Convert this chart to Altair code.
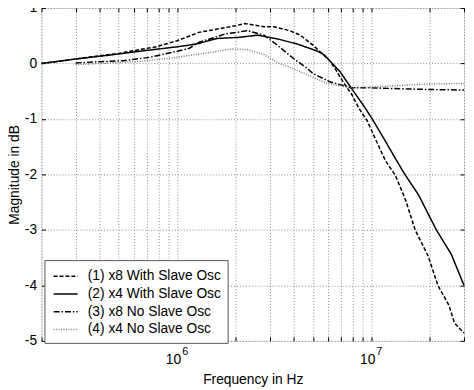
import altair as alt
import pandas as pd

names = ["(1) x8 With Slave Osc", "(2) x4 With Slave Osc",
         "(3) x8 No Slave Osc", "(4) x4 No Slave Osc"]

f1 = [2e5, 3e5, 4e5, 5e5, 6.4e5, 7.8e5, 1e6, 1.15e6, 1.29e6, 1.5e6, 1.76e6, 2.0e6,
      2.23e6, 2.5e6, 2.8e6, 3.16e6, 3.8e6, 4.3e6, 5.0e6, 5.6e6, 6.1e6, 6.6e6, 7.2e6,
      7.9e6, 8.7e6, 9.5e6, 1.03e7, 1.18e7, 1.33e7, 1.5e7, 1.68e7, 1.96e7, 2.2e7,
      2.51e7, 2.68e7, 3.0e7]
v1 = [0, 0.08, 0.14, 0.18, 0.25, 0.30, 0.41, 0.49, 0.56, 0.60, 0.645, 0.68,
      0.72, 0.69, 0.66, 0.66, 0.59, 0.51, 0.33, 0.17, 0.05, -0.13, -0.35,
      -0.55, -0.83, -1.03, -1.30, -1.75, -2.02, -2.46, -3.0, -3.47, -4.0,
      -4.36, -4.68, -4.86]

f2 = [2e5, 3e5, 4e5, 5e5, 6.4e5, 8e5, 1e6, 1.15e6, 1.29e6, 1.6e6, 2.07e6, 2.6e6,
      3.3e6, 4.15e6, 5.2e6, 5.7e6, 6.1e6, 6.9e6, 7.9e6, 9.2e6, 1.01e7, 1.18e7,
      1.38e7, 1.5e7, 1.75e7, 2.16e7, 2.58e7, 3.0e7]
v2 = [0, 0.08, 0.13, 0.17, 0.22, 0.26, 0.30, 0.33, 0.36, 0.45, 0.47, 0.51,
      0.44, 0.35, 0.23, 0.16, 0.05, -0.15, -0.45, -0.78, -1.0, -1.40,
      -1.81, -2.02, -2.37, -3.0, -3.44, -4.0]

f3 = [3e5, 4e5, 5.3e5, 7.2e5, 1e6, 1.15e6, 1.29e6, 1.5e6, 1.76e6, 2.3e6, 2.8e6,
      3.3e6, 4e6, 4.6e6, 5e6, 6.1e6, 7.9e6, 1e7, 1.55e7, 2e7, 3e7]
v3 = [0.01, 0.03, 0.05, 0.11, 0.22, 0.27, 0.38, 0.45, 0.53, 0.59, 0.51,
      0.32, 0.08, -0.07, -0.18, -0.33, -0.44, -0.44, -0.46, -0.47, -0.48]

f4 = [3e5, 4e5, 6.4e5, 1e6, 1.29e6, 1.5e6, 1.9e6, 2.3e6, 2.8e6, 3.3e6, 3.8e6,
      4.5e6, 5.9e6, 7.9e6, 1.05e7, 1.55e7, 2e7, 3e7]
v4 = [-0.02, 0.0, 0.035, 0.11, 0.17, 0.20, 0.26, 0.25, 0.16, 0.01, -0.07,
      -0.18, -0.36, -0.44, -0.42, -0.39, -0.37, -0.36]

x_ticks = [2e5, 3e5, 4e5, 5e5, 6e5, 7e5, 8e5, 9e5,
           1e6, 2e6, 3e6, 4e6, 5e6, 6e6, 7e6, 8e6, 9e6,
           1e7, 2e7, 3e7]
y_ticks = [-5, -4, -3, -2, -1, 0, 1]

# decade tick labels: 10^6, 10^7
label_vals = [1e6, 1e7]
label_base = ["10", "10"]
label_exp = ["6", "7"]

rows = []
for name, fs, vs in zip(names, [f1, f2, f3, f4], [v1, v2, v3, v4]):
    for f, v in zip(fs, vs):
        rows.append({"series": name, "freq": f, "mag": v})
df = pd.DataFrame(rows)
lab_df = pd.DataFrame({"f": label_vals, "base": label_base, "exp": label_exp})

FONT = "Liberation Sans"
xscale = alt.Scale(type="log", domain=[2e5, 3e7], nice=False)
yscale = alt.Scale(domain=[-5, 1], nice=False, zero=False)

leg = alt.Legend(
    title=None, orient="none", legendX=3, legendY=256,
    symbolType="M-1.3,0H1.3", symbolSize=350, symbolStrokeWidth=1.5,
    symbolOffset=5, symbolFillColor="transparent",
    labelFont=FONT, labelFontSize=14, labelColor="black", labelOffset=12,
    strokeColor="#555", fillColor="white", padding=6, rowPadding=0,
)

lines = alt.Chart(df).mark_line(strokeWidth=1.5).encode(
    x=alt.X("freq:Q", scale=xscale, axis=alt.Axis(
        orient="bottom", values=x_ticks, labels=False,
        title="Frequency in Hz", titleFont=FONT, titleFontSize=14,
        titleFontWeight="normal", titleColor="black", titlePadding=32,
        grid=True, gridDash=[1, 2], gridColor="#888", gridWidth=1,
        ticks=False, domain=False)),
    y=alt.Y("mag:Q", scale=yscale, axis=alt.Axis(
        orient="left", values=y_ticks, labelExpr="'' + datum.value",
        labelFont=FONT, labelFontSize=14, labelColor="black", labelPadding=5,
        title="Magnitude in dB", titleFont=FONT, titleFontSize=14,
        titleFontWeight="normal", titleColor="black", titlePadding=3,
        grid=True, gridDash=[1, 2], gridColor="#888", gridWidth=1,
        ticks=False, domain=False)),
    color=alt.Color("series:N", scale=alt.Scale(domain=names,
                    range=["black", "black", "black", "#777"]), legend=leg),
    strokeDash=alt.StrokeDash("series:N", scale=alt.Scale(domain=names,
                    range=[[4, 2], [1, 0], [6, 2, 1.5, 2], [1, 1.5]]), legend=leg),
)

# inward ticks on bottom / right
tick_br = alt.Chart(df).mark_point(opacity=0).encode(
    x=alt.X("freq:Q", scale=xscale, axis=alt.Axis(
        orient="bottom", values=x_ticks, offset=-4, tickSize=4, tickColor="black",
        labels=False, title=None, grid=False, domain=False)),
    y=alt.Y("mag:Q", scale=yscale, axis=alt.Axis(
        orient="right", values=y_ticks, offset=-4, tickSize=4, tickColor="black",
        labels=False, title=None, grid=False, domain=False)),
)

# inward ticks on top / left
tick_tl = alt.Chart(df).mark_point(opacity=0).encode(
    x=alt.X("freq:Q", scale=xscale, axis=alt.Axis(
        orient="top", values=x_ticks, offset=-4, tickSize=4, tickColor="black",
        labels=False, title=None, grid=False, domain=False)),
    y=alt.Y("mag:Q", scale=yscale, axis=alt.Axis(
        orient="left", values=y_ticks, offset=-4, tickSize=4, tickColor="black",
        labels=False, title=None, grid=False, domain=False)),
)

# decade labels "10" with superscript exponent
base_txt = alt.Chart(lab_df).mark_text(
    align="right", baseline="top", dx=4, font=FONT, fontSize=14, color="black"
).encode(x=alt.X("f:Q", scale=xscale, axis=None), y=alt.value(350), text="base:N")

exp_txt = alt.Chart(lab_df).mark_text(
    align="left", baseline="top", dx=5, font=FONT, fontSize=11, color="black"
).encode(x=alt.X("f:Q", scale=xscale, axis=None), y=alt.value(343), text="exp:N")

chart = alt.layer(lines, tick_br, tick_tl, base_txt, exp_txt).resolve_axis(
    x="independent", y="independent"
).resolve_scale(x="shared", y="shared").properties(
    width=429, height=338,
    autosize=alt.AutoSizeParams(type="none"),
    padding={"left": 34, "top": -3, "right": 2, "bottom": 52},
).configure_view(stroke="black", strokeWidth=1.2).configure(background="white")

chart.save("out.html", embed_options={"renderer": "svg", "actions": False})
